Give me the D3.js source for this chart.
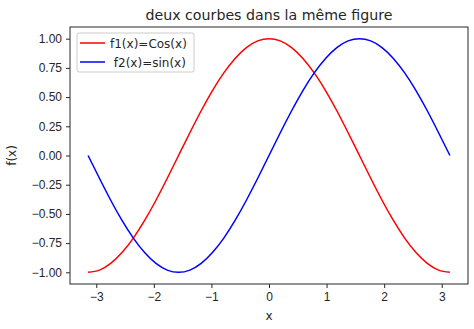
<!DOCTYPE html>
<html>
<head>
<meta charset="utf-8">
<script src="https://cdn.jsdelivr.net/npm/d3@7"></script>
<style>
	body { margin: 0; background: #fff; }
	svg { font-family: "DejaVu Sans", sans-serif; }
	.tick text { font-size: 12px; fill: #262626; }
	.tick line { stroke: #262626; }
</style>
</head>
<body>
<svg width="474" height="329"></svg>
<script>
// values
let xValues = [-3.142, -2.945, -2.749, -2.553, -2.356, -2.160, -1.963, -1.767, -1.571, -1.374, -1.178, -0.982, -0.785, -0.589, -0.393, -0.196,
	0, 0.196, 0.393, 0.589, 0.785, 0.982, 1.178, 1.374, 1.571, 1.767, 1.963, 2.160, 2.356, 2.553, 2.749, 2.945, 3.142];
let cosValues = [-1.000, -0.981, -0.924, -0.831, -0.707, -0.556, -0.383, -0.195, 0.000, 0.195, 0.383, 0.556, 0.707, 0.831, 0.924, 0.981,
	1.000, 0.981, 0.924, 0.831, 0.707, 0.556, 0.383, 0.195, 0.000, -0.195, -0.383, -0.556, -0.707, -0.831, -0.924, -0.981, -1.000];
let sinValues = [0.000, -0.195, -0.383, -0.556, -0.707, -0.831, -0.924, -0.981, -1.000, -0.981, -0.924, -0.831, -0.707, -0.556, -0.383, -0.195,
	0.000, 0.195, 0.383, 0.556, 0.707, 0.831, 0.924, 0.981, 1.000, 0.981, 0.924, 0.831, 0.707, 0.556, 0.383, 0.195, 0.000];
let xTicks = [-3, -2, -1, 0, 1, 2, 3];
let yTicks = [-1.00, -0.75, -0.50, -0.25, 0.00, 0.25, 0.50, 0.75, 1.00];
let seriesNames = ['f1(x)=Cos(x)', ' f2(x)=sin(x)'];
let seriesColors = ['#ff0000', '#0000ff'];

let svg = d3.select('svg');
let plotLeft = 70, plotRight = 468, plotTop = 27, plotBottom = 284;

let xScale = d3.scaleLinear().domain([-3.456, 3.456]).range([plotLeft, plotRight]);
let yScale = d3.scaleLinear().domain([-1.1, 1.1]).range([plotBottom, plotTop]);

// axes frame
svg.append('rect')
	.attr('x', plotLeft).attr('y', plotTop)
	.attr('width', plotRight - plotLeft).attr('height', plotBottom - plotTop)
	.attr('fill', 'none').attr('stroke', '#262626').attr('stroke-width', 1);

svg.append('g')
	.attr('transform', 'translate(0,' + plotBottom + ')')
	.call(d3.axisBottom(xScale).tickValues(xTicks).tickSize(4).tickPadding(4)
		.tickFormat(function(d) { return d < 0 ? '\u2212' + Math.abs(d) : d; }))
	.call(function(g) { g.select('.domain').remove(); });

svg.append('g')
	.attr('transform', 'translate(' + plotLeft + ',0)')
	.call(d3.axisLeft(yScale).tickValues(yTicks).tickSize(4).tickPadding(4)
		.tickFormat(function(d) { return d < 0 ? '\u2212' + Math.abs(d).toFixed(2) : d.toFixed(2); }))
	.call(function(g) { g.select('.domain').remove(); });

// curves
let series = [cosValues, sinValues];
let line = d3.line()
	.x(function(d, i) { return xScale(xValues[i]); })
	.y(function(d) { return yScale(d); })
	.curve(d3.curveNatural);

series.forEach(function(values, k) {
	svg.append('path')
		.datum(values)
		.attr('d', line)
		.attr('fill', 'none')
		.attr('stroke', seriesColors[k])
		.attr('stroke-width', 1.5);
});

// title and labels
svg.append('text')
	.attr('x', (plotLeft + plotRight) / 2).attr('y', 20)
	.attr('text-anchor', 'middle')
	.attr('font-size', 14.2).attr('fill', '#262626')
	.text('deux courbes dans la même figure');

svg.append('text')
	.attr('x', xScale(0)).attr('y', 320)
	.attr('text-anchor', 'middle')
	.attr('font-size', 12).attr('fill', '#262626')
	.text('x');

svg.append('text')
	.attr('transform', 'translate(16,' + yScale(0) + ') rotate(-90)')
	.attr('text-anchor', 'middle')
	.attr('font-size', 12).attr('fill', '#262626')
	.text('f(x)');

// legend
let legend = svg.append('g').attr('transform', 'translate(77,33)');
legend.append('rect')
	.attr('width', 117).attr('height', 39)
	.attr('rx', 2)
	.attr('fill', '#fff').attr('fill-opacity', 0.8)
	.attr('stroke', '#cccccc');
seriesNames.forEach(function(name, k) {
	let y = 10 + k * 19;
	legend.append('line')
		.attr('x1', 3).attr('x2', 28)
		.attr('y1', y).attr('y2', y)
		.attr('stroke', seriesColors[k]).attr('stroke-width', 1.5);
	legend.append('text')
		.attr('x', 33).attr('y', y + 4.5)
		.attr('font-size', 12).attr('fill', '#262626')
		.style('white-space', 'pre')
		.text(name);
});
</script>
</body>
</html>
